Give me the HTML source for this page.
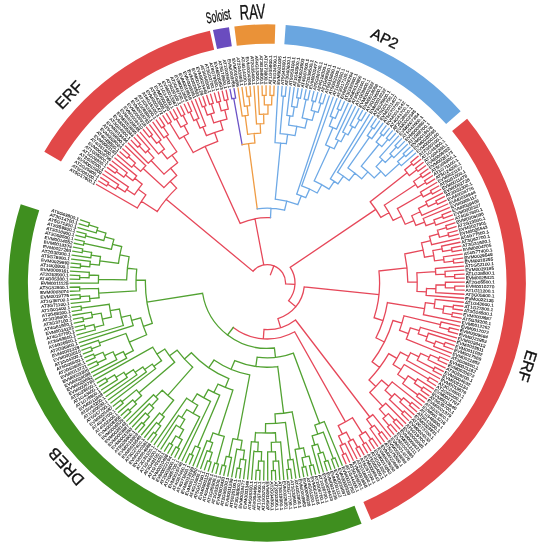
<!DOCTYPE html><html><head><meta charset="utf-8"><style>html,body{margin:0;padding:0;background:#fff;}svg{display:block}</style></head><body><svg width="542" height="550" viewBox="0 0 542 550">
<rect width="542" height="550" fill="#fff"/>
<path d="M361.59 523.86A258.7 258.7 0 0 1 20.75 204.35L39.23 210.24A239.3 239.3 0 0 0 354.52 505.80Z" fill="#3f8f1f"/>
<path d="M44.30 151.70A258.7 258.7 0 0 1 209.89 30.73L214.18 49.65A239.3 239.3 0 0 0 61.01 161.55Z" fill="#e14848"/>
<path d="M212.97 30.05A258.7 258.7 0 0 1 228.96 27.14L231.83 46.33A239.3 239.3 0 0 0 217.04 49.02Z" fill="#6a4cbf"/>
<path d="M234.33 26.40A258.7 258.7 0 0 1 275.33 24.43L274.72 43.82A239.3 239.3 0 0 0 236.79 45.64Z" fill="#ea9238"/>
<path d="M285.70 24.96A258.7 258.7 0 0 1 460.66 111.24L446.15 124.12A239.3 239.3 0 0 0 284.31 44.31Z" fill="#6aa6e0"/>
<path d="M467.11 118.80A258.7 258.7 0 0 1 371.18 519.88L363.39 502.12A239.3 239.3 0 0 0 452.12 131.11Z" fill="#e14848"/>
<g fill="none" stroke-width="1.3" stroke-linecap="square">
<path stroke="#e6485a" d="M137.30 208.00L96.59 184.50M106.68 185.90L98.64 181.04M108.70 182.64L100.76 177.62M115.68 189.22L107.68 184.27M106.68 185.90A187.60 187.60 0 0 1 108.70 182.64M118.62 184.62L102.94 174.24M125.05 191.97L117.13 186.91M115.68 189.22A178.20 178.20 0 0 1 118.62 184.62M128.39 186.95L105.20 170.91M134.52 194.66L126.69 189.45M125.05 191.97A168.80 168.80 0 0 1 128.39 186.95M115.14 173.13L107.52 167.62M117.42 170.05L109.91 164.39M123.83 177.17L116.27 171.58M115.14 173.13A187.60 187.60 0 0 1 117.42 170.05M127.14 172.82L112.36 161.20M132.95 180.68L125.47 174.98M123.83 177.17A178.20 178.20 0 0 1 127.14 172.82M136.69 175.95L114.88 158.06M142.17 184.13L134.80 178.30M132.95 180.68A168.80 168.80 0 0 1 136.69 175.95M145.84 194.84L138.24 189.32M134.52 194.66A159.40 159.40 0 0 1 142.17 184.13M157.16 211.55L141.40 201.31M137.30 208.00A150.00 150.00 0 0 1 145.84 194.84M131.76 167.20L117.47 154.98M127.13 158.20L120.11 151.95M129.71 155.37L122.82 148.97M135.37 163.10L128.41 156.78M127.13 158.20A187.60 187.60 0 0 1 129.71 155.37M140.60 171.35L133.55 165.14M131.76 167.20A178.20 178.20 0 0 1 135.37 163.10M145.86 165.66L125.59 146.05M163.91 187.61L143.19 168.48M140.60 171.35A168.80 168.80 0 0 1 145.86 165.66M148.28 163.20L128.41 143.19M137.78 147.19L131.30 140.39M140.58 144.58L134.24 137.64M145.59 152.75L139.17 145.88M137.78 147.19A187.60 187.60 0 0 1 140.58 144.58M149.63 149.08L137.23 134.96M153.91 157.87L147.60 150.90M145.59 152.75A178.20 178.20 0 0 1 149.63 149.08M164.00 174.15L151.06 160.50M148.28 163.20A168.80 168.80 0 0 1 153.91 157.87M158.45 153.90L140.28 132.33M149.29 137.08L143.38 129.77M152.30 134.71L146.54 127.28M156.62 143.26L150.79 135.89M149.29 137.08A187.60 187.60 0 0 1 152.30 134.71M160.95 139.94L149.74 124.84M164.49 149.04L158.77 141.58M156.62 143.26A178.20 178.20 0 0 1 160.95 139.94M167.33 158.76L161.44 151.44M158.45 153.90A168.80 168.80 0 0 1 164.49 149.04M163.90 137.80L153.00 122.48M161.59 127.95L156.30 120.18M164.78 125.83L159.65 117.95M168.39 134.70L163.18 126.88M161.59 127.95A187.60 187.60 0 0 1 164.78 125.83M176.79 151.72L166.13 136.23M163.90 137.80A178.20 178.20 0 0 1 168.39 134.70M177.61 162.69L172.00 155.15M167.33 158.76A159.40 159.40 0 0 1 176.79 151.72M176.69 175.41L170.63 168.22M164.00 174.15A150.00 150.00 0 0 1 177.61 162.69M176.60 188.11L170.11 181.31M163.91 187.61A140.60 140.60 0 0 1 176.69 175.41M253.04 271.26L166.20 199.26M157.16 211.55A131.20 131.20 0 0 1 176.60 188.11M168.01 123.77L163.04 115.79M171.28 121.78L166.48 113.70M179.42 138.82L169.64 122.76M168.01 123.77A187.60 187.60 0 0 1 171.28 121.78M174.59 119.85L169.95 111.68M177.94 117.99L173.47 109.73M180.82 127.14L176.26 118.91M174.59 119.85A187.60 187.60 0 0 1 177.94 117.99M181.33 116.21L177.03 107.85M184.76 114.49L180.62 106.04M187.26 123.74L183.04 115.34M181.33 116.21A187.60 187.60 0 0 1 184.76 114.49M188.41 133.72L184.02 125.40M180.82 127.14A178.20 178.20 0 0 1 187.26 123.74M193.15 152.55L183.87 136.20M179.42 138.82A168.80 168.80 0 0 1 188.41 133.72M188.21 112.84L184.26 104.31M191.70 111.26L187.92 102.66M193.83 120.61L189.96 112.04M188.21 112.84A187.60 187.60 0 0 1 191.70 111.26M198.83 118.44L191.62 101.07M200.06 128.13L196.32 119.50M193.83 120.61A178.20 178.20 0 0 1 198.83 118.44M205.64 125.83L195.35 99.57M206.42 135.64L202.84 126.95M200.06 128.13A168.80 168.80 0 0 1 205.64 125.83M202.36 106.96L199.11 98.14M205.97 105.67L202.90 96.79M207.32 115.16L204.16 106.31M202.36 106.96A187.60 187.60 0 0 1 205.97 105.67M209.60 104.46L206.72 95.51M213.26 103.32L210.56 94.32M214.22 112.86L211.43 103.88M209.60 104.46A187.60 187.60 0 0 1 213.26 103.32M213.74 122.89L210.76 113.97M207.32 115.16A178.20 178.20 0 0 1 214.22 112.86M216.94 102.26L214.42 93.20M220.64 101.27L218.31 92.16M221.21 110.84L218.79 101.75M216.94 102.26A187.60 187.60 0 0 1 220.64 101.27M224.36 100.36L222.21 91.20M228.10 99.52L226.14 90.33M228.28 109.10L226.23 99.93M224.36 100.36A187.60 187.60 0 0 1 228.10 99.52M226.98 119.06L224.74 109.93M221.21 110.84A178.20 178.20 0 0 1 228.28 109.10M222.93 129.87L220.32 120.84M213.74 122.89A168.80 168.80 0 0 1 226.98 119.06M217.70 141.40L214.60 132.53M206.42 135.64A159.40 159.40 0 0 1 222.93 129.87M240.16 223.45L205.18 146.42M193.15 152.55A150.00 150.00 0 0 1 217.70 141.40M263.76 264.92L254.98 218.75M240.16 223.45A65.40 65.40 0 0 1 270.50 217.68M410.87 162.36L418.07 156.32M413.30 165.32L420.62 159.43M404.83 169.81L412.09 163.84M410.87 162.36A187.60 187.60 0 0 1 413.30 165.32M415.67 168.33L423.11 162.58M417.98 171.38L425.54 165.79M409.34 175.52L416.84 169.85M415.67 168.33A187.60 187.60 0 0 1 417.98 171.38M370.21 201.75L407.11 172.64M404.83 169.81A178.20 178.20 0 0 1 409.34 175.52M420.23 174.49L427.90 169.05M422.42 177.63L430.19 172.35M413.61 181.41L421.33 176.06M420.23 174.49A187.60 187.60 0 0 1 422.42 177.63M424.53 180.83L432.42 175.71M426.59 184.06L434.57 179.10M417.63 187.48L425.57 182.44M424.53 180.83A187.60 187.60 0 0 1 426.59 184.06M384.33 205.22L415.65 184.42M413.61 181.41A178.20 178.20 0 0 1 417.63 187.48M420.49 192.13L436.66 182.54M430.49 190.65L438.68 186.02M432.35 194.00L440.62 189.54M423.20 196.87L431.43 192.32M430.49 190.65A187.60 187.60 0 0 1 432.35 194.00M397.39 208.49L421.86 194.49M420.49 192.13A178.20 178.20 0 0 1 423.20 196.87M425.77 201.68L442.49 193.10M435.84 200.82L444.29 196.70M437.49 204.28L446.02 200.34M428.18 206.58L436.67 202.55M435.84 200.82A187.60 187.60 0 0 1 437.49 204.28M418.56 208.28L426.99 204.12M425.77 201.68A178.20 178.20 0 0 1 428.18 206.58M421.83 215.31L447.67 204.01M411.72 215.74L420.24 211.78M418.56 208.28A168.80 168.80 0 0 1 421.83 215.31M423.18 218.48L449.24 207.71M441.99 214.85L450.74 211.44M443.34 218.44L452.17 215.20M433.88 219.97L442.67 216.64M441.99 214.85A187.60 187.60 0 0 1 443.34 218.44M435.73 225.10L453.51 218.99M425.98 225.72L434.83 222.53M433.88 219.97A178.20 178.20 0 0 1 435.73 225.10M415.86 225.48L424.63 222.08M423.18 218.48A168.80 168.80 0 0 1 425.98 225.72M405.22 224.26L413.87 220.58M411.72 215.74A159.40 159.40 0 0 1 415.86 225.48M393.12 220.44L401.53 216.26M397.39 208.49A150.00 150.00 0 0 1 405.22 224.26M380.82 217.40L388.96 212.70M384.33 205.22A140.60 140.60 0 0 1 393.12 220.44M290.21 267.40L375.80 209.38M370.21 201.75A131.20 131.20 0 0 1 380.82 217.40M445.83 225.68L454.78 222.81M446.96 229.34L455.97 226.65M437.43 230.29L446.41 227.51M445.83 225.68A187.60 187.60 0 0 1 446.96 229.34M448.02 233.02L457.08 230.52M449.00 236.73L458.11 234.41M439.44 237.28L448.52 234.87M448.02 233.02A187.60 187.60 0 0 1 449.00 236.73M429.43 236.37L438.47 233.78M437.43 230.29A178.20 178.20 0 0 1 439.44 237.28M431.60 244.71L459.07 238.32M421.47 242.89L430.57 240.53M429.43 236.37A168.80 168.80 0 0 1 431.60 244.71M441.54 246.13L459.94 242.24M451.50 247.94L460.73 246.19M452.17 251.71L461.44 250.15M442.59 251.49L451.84 249.83M451.50 247.94A187.60 187.60 0 0 1 452.17 251.71M432.86 250.61L442.09 248.81M441.54 246.13A178.20 178.20 0 0 1 442.59 251.49M443.47 256.88L462.07 254.12M453.30 259.29L462.62 258.10M453.74 263.10L463.09 262.10M444.19 262.29L453.53 261.19M453.30 259.29A187.60 187.60 0 0 1 453.74 263.10M434.54 260.81L443.85 259.58M443.47 256.88A178.20 178.20 0 0 1 444.19 262.29M424.50 257.22L433.78 255.70M432.86 250.61A168.80 168.80 0 0 1 434.54 260.81M404.76 253.91L423.15 250.02M421.47 242.89A159.40 159.40 0 0 1 424.50 257.22M435.38 268.52L463.47 266.10M445.02 271.35L463.78 270.12M454.61 274.56L464.00 274.13M454.74 278.38L464.14 278.15M445.29 276.80L454.69 276.47M454.61 274.56A187.60 187.60 0 0 1 454.74 278.38M435.79 274.54L445.18 274.07M445.02 271.35A178.20 178.20 0 0 1 445.29 276.80M416.85 272.81L435.61 271.53M435.38 268.52A168.80 168.80 0 0 1 435.79 274.54M445.40 282.25L464.20 282.17M454.78 286.04L464.17 286.20M454.67 289.87L464.07 290.22M445.34 287.71L454.73 287.96M454.78 286.04A187.60 187.60 0 0 1 454.67 289.87M435.99 284.88L445.39 284.98M445.40 282.25A178.20 178.20 0 0 1 445.34 287.71M435.73 292.63L463.88 294.24M426.51 288.43L435.90 288.75M435.99 284.88A168.80 168.80 0 0 1 435.73 292.63M426.12 295.34L463.61 298.25M416.97 291.37L426.35 291.89M426.51 288.43A159.40 159.40 0 0 1 426.12 295.34M407.80 282.14L417.20 282.08M416.85 272.81A150.00 150.00 0 0 1 416.97 291.37M378.95 270.97L406.99 267.95M404.76 253.91A140.60 140.60 0 0 1 407.80 282.14M435.19 299.50L463.26 302.26M453.49 305.15L462.82 306.26M453.00 308.95L462.31 310.25M443.93 305.84L453.25 307.05M453.49 305.15A187.60 187.60 0 0 1 453.00 308.95M452.43 312.74L461.71 314.23M451.78 316.51L461.03 318.19M442.85 313.04L452.12 314.62M452.43 312.74A187.60 187.60 0 0 1 451.78 316.51M434.13 308.05L443.43 309.45M443.93 305.84A178.20 178.20 0 0 1 442.85 313.04M425.39 302.63L434.72 303.78M435.19 299.50A168.80 168.80 0 0 1 434.13 308.05M423.42 314.67L460.27 322.14M387.41 302.61L424.52 308.67M425.39 302.63A159.40 159.40 0 0 1 423.42 314.67M441.09 321.96L459.43 326.07M449.38 327.75L458.51 329.99M448.43 331.46L457.51 333.89M439.81 327.27L448.92 329.61M449.38 327.75A187.60 187.60 0 0 1 448.43 331.46M403.91 315.84L440.47 324.62M441.09 321.96A178.20 178.20 0 0 1 439.81 327.27M420.32 327.31L456.44 337.76M428.35 333.23L455.28 341.62M445.13 342.46L454.04 345.44M443.87 346.08L452.73 349.25M435.63 341.21L444.51 344.28M445.13 342.46A187.60 187.60 0 0 1 443.87 346.08M433.76 346.34L451.34 353.02M425.88 340.57L434.71 343.78M435.63 341.21A178.20 178.20 0 0 1 433.76 346.34M418.25 333.91L427.16 336.91M428.35 333.23A168.80 168.80 0 0 1 425.88 340.57M410.35 327.81L419.32 330.62M420.32 327.31A159.40 159.40 0 0 1 418.25 333.91M406.29 339.17L449.87 356.77M399.58 330.36L408.43 333.53M410.35 327.81A150.00 150.00 0 0 1 406.29 339.17M392.93 320.48L401.94 323.16M403.91 315.84A140.60 140.60 0 0 1 399.58 330.36M439.68 356.78L448.32 360.48M438.14 360.29L446.70 364.16M430.31 354.76L438.92 358.54M439.68 356.78A187.60 187.60 0 0 1 438.14 360.29M428.04 359.72L445.01 367.81M420.65 353.33L429.20 357.24M430.31 354.76A178.20 178.20 0 0 1 428.04 359.72M434.84 367.20L443.24 371.42M433.09 370.61L441.40 375.00M417.26 360.30L433.97 368.91M434.84 367.20A187.60 187.60 0 0 1 433.09 370.61M410.54 352.72L419.00 356.83M420.65 353.33A168.80 168.80 0 0 1 417.26 360.30M406.60 360.30L439.48 378.54M400.28 352.20L408.62 356.54M410.54 352.72A159.40 159.40 0 0 1 406.60 360.30M429.37 377.31L437.50 382.04M427.41 380.60L435.44 385.49M404.17 364.54L428.40 378.96M429.37 377.31A187.60 187.60 0 0 1 427.41 380.60M417.46 378.80L433.31 388.91M423.29 387.06L431.11 392.28M421.14 390.23L428.85 395.60M414.45 383.36L422.22 388.65M423.29 387.06A187.60 187.60 0 0 1 421.14 390.23M408.13 375.91L415.97 381.09M417.46 378.80A178.20 178.20 0 0 1 414.45 383.36M418.91 393.35L426.52 398.88M416.63 396.42L424.12 402.11M402.69 383.68L417.78 394.89M418.91 393.35A187.60 187.60 0 0 1 416.63 396.42M397.76 374.44L405.46 379.83M408.13 375.91A168.80 168.80 0 0 1 402.69 383.68M393.16 364.44L401.06 369.55M404.17 364.54A159.40 159.40 0 0 1 397.76 374.44M388.74 353.68L396.87 358.41M400.28 352.20A150.00 150.00 0 0 1 393.16 364.44M392.17 381.95L421.65 405.29M411.87 402.43L419.12 408.41M409.40 405.36L416.53 411.49M403.46 397.84L410.65 403.90M411.87 402.43A187.60 187.60 0 0 1 409.40 405.36M399.88 401.96L413.88 414.51M394.59 393.75L401.68 399.92M403.46 397.84A178.20 178.20 0 0 1 399.88 401.96M404.29 411.06L411.16 417.48M401.65 413.84L408.38 420.39M389.37 399.48L402.98 412.46M404.29 411.06A187.60 187.60 0 0 1 401.65 413.84M385.06 390.32L392.01 396.65M394.59 393.75A168.80 168.80 0 0 1 389.37 399.48M381.53 380.11L388.69 386.19M392.17 381.95A159.40 159.40 0 0 1 385.06 390.32M385.74 403.17L405.55 423.24M396.19 419.22L402.66 426.04M393.38 421.82L399.71 428.78M388.40 413.63L394.80 420.53M396.19 419.22A187.60 187.60 0 0 1 393.38 421.82M390.52 424.37L396.70 431.45M387.61 426.86L393.64 434.07M382.97 418.47L389.07 425.62M390.52 424.37A187.60 187.60 0 0 1 387.61 426.86M379.46 409.06L385.71 416.08M388.40 413.63A178.20 178.20 0 0 1 382.97 418.47M369.78 392.44L382.64 406.16M385.74 403.17A168.80 168.80 0 0 1 379.46 409.06M369.02 379.96L375.83 386.44M381.53 380.11A150.00 150.00 0 0 1 369.78 392.44M372.13 361.76L379.65 367.40M388.74 353.68A140.60 140.60 0 0 1 369.02 379.96M375.97 337.81L384.37 342.04M392.93 320.48A131.20 131.20 0 0 1 372.13 361.76M374.10 317.74L383.04 320.65M387.41 302.61A121.80 121.80 0 0 1 375.97 337.81M304.20 286.84L379.00 294.61M378.95 270.97A112.40 112.40 0 0 1 374.10 317.74M372.88 414.63L390.53 436.62M381.64 431.65L387.37 439.10M378.58 433.96L384.16 441.52M374.46 425.31L380.11 432.81M381.64 431.65A187.60 187.60 0 0 1 378.58 433.96M370.05 428.53L380.90 443.88M366.72 419.34L372.26 426.93M374.46 425.31A178.20 178.20 0 0 1 370.05 428.53M295.53 320.00L369.83 417.02M372.88 414.63A168.80 168.80 0 0 1 366.72 419.34M372.32 438.38L377.59 446.17M369.13 440.49L374.23 448.39M365.54 431.61L370.73 439.45M372.32 438.38A187.60 187.60 0 0 1 369.13 440.49M365.89 442.54L370.83 450.54M362.61 444.53L367.39 452.62M359.39 435.50L364.26 443.54M365.89 442.54A187.60 187.60 0 0 1 362.61 444.53M352.43 417.70L362.49 433.58M365.54 431.61A178.20 178.20 0 0 1 359.39 435.50M359.29 446.44L363.91 454.63M355.94 448.29L360.38 456.57M353.09 439.14L357.62 447.37M359.29 446.44A187.60 187.60 0 0 1 355.94 448.29M348.27 441.69L356.82 458.43M346.28 432.13L350.69 440.43M353.09 439.14A178.20 178.20 0 0 1 348.27 441.69M345.01 443.31L353.22 460.23M345.65 453.41L349.58 461.95M342.16 454.98L345.91 463.59M340.06 445.62L343.91 454.20M345.65 453.41A187.60 187.60 0 0 1 342.16 454.98M338.57 435.97L342.55 444.49M345.01 443.31A178.20 178.20 0 0 1 340.06 445.62M338.26 425.68L342.45 434.10M346.28 432.13A168.80 168.80 0 0 1 338.57 435.97M294.69 331.79L345.45 421.87M352.43 417.70A159.40 159.40 0 0 1 338.26 425.68M263.98 329.49L263.33 338.87M294.69 331.79A56.00 56.00 0 0 1 233.25 327.53M277.92 318.62L280.62 327.62M295.53 320.00A46.60 46.60 0 0 1 263.98 329.49M288.62 300.72L295.87 306.71M304.20 286.84A37.20 37.20 0 0 1 277.92 318.62M285.58 283.88L294.97 284.32M290.21 267.40A27.80 27.80 0 0 1 288.62 300.72M253.04 271.26A18.40 18.40 0 0 1 285.58 283.88"/>
<path stroke="#6b52c6" d="M231.85 98.76L230.08 89.53M235.62 98.08L234.04 88.81M242.12 144.65L233.74 98.41M231.85 98.76A187.60 187.60 0 0 1 235.62 98.08"/>
<path stroke="#ef9c44" d="M242.19 116.06L238.01 88.17M244.40 106.26L242.00 87.62M247.00 96.49L245.99 87.14M250.82 96.12L250.00 86.75M249.83 105.65L248.91 96.29M247.00 96.49A187.60 187.60 0 0 1 250.82 96.12M248.17 115.28L247.11 105.94M244.40 106.26A178.20 178.20 0 0 1 249.83 105.65M247.63 134.28L245.18 115.64M242.19 116.06A168.80 168.80 0 0 1 248.17 115.28M256.52 123.96L254.01 86.44M259.34 114.38L258.02 86.21M262.29 95.46L262.04 86.07M266.12 95.40L266.07 86.00M264.35 104.82L264.20 95.42M262.29 95.46A187.60 187.60 0 0 1 266.12 95.40M269.95 95.42L270.09 86.02M273.78 95.52L274.11 86.12M271.63 104.86L271.87 95.46M269.95 95.42A187.60 187.60 0 0 1 273.78 95.52M267.95 114.20L267.99 104.80M264.35 104.82A178.20 178.20 0 0 1 271.63 104.86M263.84 123.64L263.64 114.24M259.34 114.38A168.80 168.80 0 0 1 267.95 114.20M260.59 133.15L260.18 123.75M256.52 123.96A159.40 159.40 0 0 1 263.84 123.64M254.92 142.94L254.10 133.57M247.63 134.28A150.00 150.00 0 0 1 260.59 133.15M257.25 208.86L248.50 143.65M242.12 144.65A140.60 140.60 0 0 1 254.92 142.94"/>
<path stroke="#6ea9e6" d="M275.00 142.62L278.13 86.30M281.43 95.94L282.14 86.57M285.25 96.27L286.15 86.91M280.10 133.56L283.34 96.10M281.43 95.94A187.60 187.60 0 0 1 285.25 96.27M286.86 115.35L290.15 87.34M291.57 106.47L294.14 87.85M296.64 97.73L298.12 88.44M300.42 98.36L302.09 89.11M296.96 107.30L298.53 98.04M296.64 97.73A187.60 187.60 0 0 1 300.42 98.36M292.84 116.16L294.27 106.87M291.57 106.47A178.20 178.20 0 0 1 296.96 107.30M288.60 125.04L289.86 115.73M286.86 115.35A168.80 168.80 0 0 1 292.84 116.16M304.18 99.08L306.04 89.87M307.93 99.88L309.97 90.70M302.17 117.86L306.06 99.47M304.18 99.08A187.60 187.60 0 0 1 307.93 99.88M311.66 100.75L313.89 91.61M315.37 101.69L317.79 92.61M311.20 110.32L313.52 101.21M311.66 100.75A187.60 187.60 0 0 1 315.37 101.69M319.07 102.71L321.67 93.68M322.74 103.81L325.52 94.83M318.21 112.26L320.90 103.25M319.07 102.71A187.60 187.60 0 0 1 322.74 103.81M312.21 120.31L314.72 111.25M311.20 110.32A178.20 178.20 0 0 1 318.21 112.26M304.98 128.14L307.21 119.01M302.17 117.86A168.80 168.80 0 0 1 312.21 120.31M295.08 135.61L296.83 126.38M288.60 125.04A159.40 159.40 0 0 1 304.98 128.14M286.34 143.71L287.62 134.40M280.10 133.56A150.00 150.00 0 0 1 295.08 135.61M275.27 199.19L280.68 143.05M275.00 142.62A140.60 140.60 0 0 1 286.34 143.71M296.73 194.18L329.35 96.06M301.68 185.94L333.15 97.37M330.28 116.34L336.93 98.75M337.17 108.94L340.68 100.22M340.71 110.40L344.40 101.75M335.35 118.35L338.95 109.66M337.17 108.94A187.60 187.60 0 0 1 340.71 110.40M329.36 126.06L332.82 117.32M330.28 116.34A178.20 178.20 0 0 1 335.35 118.35M336.50 129.08L348.08 103.37M325.63 144.85L332.95 127.53M329.36 126.06A168.80 168.80 0 0 1 336.50 129.08M335.60 139.02L351.73 105.06M342.73 132.04L355.35 106.82M350.17 125.30L358.93 108.66M357.92 118.79L362.47 110.57M361.26 120.68L365.97 112.55M354.96 127.91L359.59 119.73M357.92 118.79A187.60 187.60 0 0 1 361.26 120.68M348.07 134.84L352.58 126.58M350.17 125.30A178.20 178.20 0 0 1 354.96 127.91M341.06 141.74L345.41 133.41M342.73 132.04A168.80 168.80 0 0 1 348.07 134.84M334.15 148.77L338.34 140.36M335.60 139.02A159.40 159.40 0 0 1 341.06 141.74M314.20 180.90L329.92 146.74M325.63 144.85A150.00 150.00 0 0 1 334.15 148.77M330.40 178.88L369.43 114.60M337.56 172.26L372.84 116.72M371.02 126.74L376.22 118.91M374.19 128.90L379.55 121.17M367.32 135.59L372.61 127.81M371.02 126.74A187.60 187.60 0 0 1 374.19 128.90M371.79 138.72L382.83 123.50M347.97 167.92L369.57 137.14M367.32 135.59A178.20 178.20 0 0 1 371.79 138.72M380.39 133.39L386.06 125.90M383.42 135.74L389.24 128.36M376.16 141.99L381.91 134.56M380.39 133.39A187.60 187.60 0 0 1 383.42 135.74M386.40 138.14L392.37 130.88M389.33 140.60L395.45 133.47M381.83 146.56L387.87 139.36M386.40 138.14A187.60 187.60 0 0 1 389.33 140.60M361.32 166.21L379.02 144.25M376.16 141.99A178.20 178.20 0 0 1 381.83 146.56M379.69 157.14L398.48 136.12M395.05 145.71L401.45 138.83M397.82 148.35L404.37 141.60M389.97 153.83L396.44 147.02M395.05 145.71A187.60 187.60 0 0 1 397.82 148.35M393.86 157.66L407.23 144.43M385.35 162.44L391.93 155.73M389.97 153.83A178.20 178.20 0 0 1 393.86 157.66M376.13 166.62L382.55 159.76M379.69 157.14A168.80 168.80 0 0 1 385.35 162.44M403.21 153.79L410.03 147.32M405.82 156.60L412.77 150.26M397.64 161.59L404.52 155.19M403.21 153.79A187.60 187.60 0 0 1 405.82 156.60M401.30 165.64L415.45 153.26M385.53 176.20L399.49 163.60M397.64 161.59A178.20 178.20 0 0 1 401.30 165.64M374.22 177.90L380.93 171.31M376.13 166.62A159.40 159.40 0 0 1 385.53 176.20M361.63 178.83L367.94 171.87M361.32 166.21A150.00 150.00 0 0 1 374.22 177.90M349.10 180.50L354.97 173.16M347.97 167.92A140.60 140.60 0 0 1 361.63 178.83M337.98 183.88L343.44 176.23M337.56 172.26A131.20 131.20 0 0 1 349.10 180.50M329.06 189.16L334.24 181.31M330.40 178.88A121.80 121.80 0 0 1 337.98 183.88M317.22 192.96L321.79 184.74M314.20 180.90A112.40 112.40 0 0 1 329.06 189.16M305.73 197.70L309.60 189.13M301.68 185.94A103.00 103.00 0 0 1 317.22 192.96M297.85 204.58L301.27 195.82M296.73 194.18A93.60 93.60 0 0 1 305.73 197.70M284.57 210.24L286.75 201.10M275.27 199.19A84.20 84.20 0 0 1 297.85 204.58M270.50 217.68L270.97 208.30M257.25 208.86A74.80 74.80 0 0 1 284.57 210.24"/>
<path stroke="#52a232" d="M324.31 421.70L342.21 465.16M335.07 457.89L338.47 466.66M331.49 459.24L334.71 468.07M323.35 432.18L333.28 458.58M335.07 457.89A187.60 187.60 0 0 1 331.49 459.24M327.87 460.52L330.91 469.41M324.24 461.72L327.09 470.67M323.11 452.20L326.06 461.13M327.87 460.52A187.60 187.60 0 0 1 324.24 461.72M317.90 453.84L323.25 471.86M317.70 444.07L320.51 453.04M323.11 452.20A178.20 178.20 0 0 1 317.90 453.84M311.91 445.77L319.38 472.96M312.16 435.93L314.81 444.95M317.70 444.07A168.80 168.80 0 0 1 311.91 445.77M314.81 425.24L317.79 434.16M323.35 432.18A159.40 159.40 0 0 1 312.16 435.93M293.32 353.09L319.59 423.55M324.31 421.70A150.00 150.00 0 0 1 314.81 425.24M313.19 464.88L315.49 473.99M309.46 465.78L311.58 474.94M309.12 456.20L311.33 465.34M313.19 464.88A187.60 187.60 0 0 1 309.46 465.78M305.72 466.60L307.65 475.80M301.97 467.35L303.71 476.59M302.01 457.77L303.85 466.99M305.72 466.60A187.60 187.60 0 0 1 301.97 467.35M303.55 447.84L305.57 457.02M309.12 456.20A178.20 178.20 0 0 1 302.01 457.77M295.09 449.48L299.75 477.29M292.17 411.80L299.33 448.71M303.55 447.84A168.80 168.80 0 0 1 295.09 449.48M293.05 459.32L295.77 477.92M290.62 469.13L291.79 478.46M286.81 469.57L287.79 478.92M287.64 460.02L288.71 469.36M290.62 469.13A187.60 187.60 0 0 1 286.81 469.57M285.46 422.41L290.34 459.69M293.05 459.32A178.20 178.20 0 0 1 287.64 460.02M280.62 441.83L283.79 479.30M278.58 460.84L279.78 479.60M275.35 470.42L275.76 479.81M271.52 470.55L271.74 479.95M273.12 461.10L273.44 470.50M275.35 470.42A187.60 187.60 0 0 1 271.52 470.55M275.39 451.60L275.85 460.99M278.58 460.84A178.20 178.20 0 0 1 273.12 461.10M267.64 451.80L267.72 480.00M271.28 442.35L271.52 451.74M275.39 451.60A168.80 168.80 0 0 1 267.64 451.80M275.44 432.77L275.95 442.16M280.62 441.83A159.40 159.40 0 0 1 271.28 442.35M264.03 461.17L263.69 479.97M260.03 470.46L259.67 479.86M256.20 470.28L255.65 479.66M258.57 460.99L258.12 470.38M260.03 470.46A187.60 187.60 0 0 1 256.20 470.28M261.61 451.71L261.30 461.10M264.03 461.17A178.20 178.20 0 0 1 258.57 460.99M253.87 451.27L251.64 479.38M258.26 442.15L257.74 451.53M261.61 451.71A168.80 168.80 0 0 1 253.87 451.27M251.37 441.61L247.63 479.03M255.54 432.55L254.81 441.92M258.26 442.15A159.40 159.40 0 0 1 251.37 441.61M265.59 423.59L265.49 432.99M275.44 432.77A150.00 150.00 0 0 1 255.54 432.55M274.99 413.97L275.55 423.35M285.46 422.41A140.60 140.60 0 0 1 265.59 423.59M277.74 366.54L283.62 413.17M292.17 411.80A131.20 131.20 0 0 1 274.99 413.97M245.88 459.92L243.64 478.59M240.96 468.76L239.65 478.06M237.17 468.18L235.67 477.46M240.48 459.18L239.07 468.48M240.96 468.76A187.60 187.60 0 0 1 237.17 468.18M244.44 450.26L243.18 459.57M245.88 459.92A178.20 178.20 0 0 1 240.48 459.18M236.79 449.04L231.71 476.78M242.09 440.41L240.61 449.69M244.44 450.26A168.80 168.80 0 0 1 236.79 449.04M231.52 457.59L227.76 476.01M225.89 466.00L223.82 475.17M222.17 465.11L219.91 474.24M226.19 456.42L224.03 465.56M225.89 466.00A187.60 187.60 0 0 1 222.17 465.11M232.90 438.67L228.85 457.02M231.52 457.59A178.20 178.20 0 0 1 226.19 456.42M249.75 374.96L237.48 439.60M242.09 440.41A159.40 159.40 0 0 1 232.90 438.67M218.46 464.16L216.01 473.23M214.77 463.12L212.14 472.15M224.21 436.49L216.61 463.65M218.46 464.16A187.60 187.60 0 0 1 214.77 463.12M211.10 462.02L208.29 470.99M207.46 460.83L204.46 469.74M212.18 452.49L209.28 461.43M211.10 462.02A187.60 187.60 0 0 1 207.46 460.83M207.01 450.73L200.66 468.42M212.63 442.73L209.59 451.63M212.18 452.49A178.20 178.20 0 0 1 207.01 450.73M206.96 440.68L196.89 467.03M212.98 432.89L209.78 441.73M212.63 442.73A168.80 168.80 0 0 1 206.96 440.68M232.90 390.04L218.56 434.80M224.21 436.49A159.40 159.40 0 0 1 212.98 432.89M200.21 448.13L193.15 465.55M193.15 455.37L189.44 464.00M189.64 453.82L185.76 462.38M195.19 446.00L191.39 454.60M193.15 455.37A187.60 187.60 0 0 1 189.64 453.82M219.69 395.15L197.69 447.09M200.21 448.13A178.20 178.20 0 0 1 195.19 446.00M210.53 401.33L182.11 460.68M199.66 416.94L178.50 458.90M179.33 448.75L174.93 457.05M175.96 446.92L171.39 455.13M182.13 439.58L177.64 447.84M179.33 448.75A187.60 187.60 0 0 1 175.96 446.92M172.64 445.02L167.90 453.14M169.35 443.06L164.44 451.08M175.81 435.98L170.99 444.05M172.64 445.02A187.60 187.60 0 0 1 169.35 443.06M183.60 429.65L178.95 437.81M182.13 439.58A178.20 178.20 0 0 1 175.81 435.98M176.23 425.19L161.03 448.94M184.75 419.42L179.89 427.47M183.60 429.65A168.80 168.80 0 0 1 176.23 425.19M178.57 415.49L157.67 446.74M186.69 409.56L181.64 417.49M184.75 419.42A159.40 159.40 0 0 1 178.57 415.49M197.73 405.24L193.08 413.41M199.66 416.94A150.00 150.00 0 0 1 186.69 409.56M186.66 398.24L154.35 444.47M197.13 393.92L192.11 401.87M197.73 405.24A140.60 140.60 0 0 1 186.66 398.24M208.27 389.60L203.72 397.82M210.53 401.33A131.20 131.20 0 0 1 197.13 393.92M218.02 384.07L213.91 392.52M219.69 395.15A121.80 121.80 0 0 1 208.27 389.60M228.86 378.60L225.36 387.32M232.90 390.04A112.40 112.40 0 0 1 218.02 384.07M156.61 434.54L151.07 442.13M153.54 432.25L147.85 439.73M160.69 425.87L155.07 433.40M156.61 434.54A187.60 187.60 0 0 1 153.54 432.25M156.37 422.54L144.67 437.26M164.25 416.77L158.52 424.22M160.69 425.87A178.20 178.20 0 0 1 156.37 422.54M159.53 413.01L141.55 434.73M173.61 400.22L161.87 414.91M164.25 416.77A168.80 168.80 0 0 1 159.53 413.01M144.62 425.01L138.48 432.13M141.74 422.48L135.46 429.47M149.39 416.70L143.17 423.75M144.62 425.01A187.60 187.60 0 0 1 141.74 422.48M145.35 413.03L132.49 426.75M153.68 407.92L147.36 414.88M149.39 416.70A178.20 178.20 0 0 1 145.35 413.03M149.29 403.79L129.59 423.97M157.91 399.03L151.46 405.88M153.68 407.92A168.80 168.80 0 0 1 149.29 403.79M153.55 394.76L126.74 421.13M162.28 390.20L155.71 396.92M157.91 399.03A159.40 159.40 0 0 1 153.55 394.76M192.73 367.19L167.82 395.35M173.61 400.22A150.00 150.00 0 0 1 162.28 390.20M130.78 411.78L123.95 418.23M128.18 408.97L121.22 415.28M136.38 404.00L129.47 410.38M130.78 411.78A187.60 187.60 0 0 1 128.18 408.97M132.73 399.93L118.54 412.27M141.54 395.70L134.54 401.98M136.38 404.00A178.20 178.20 0 0 1 132.73 399.93M123.15 403.19L115.94 409.21M120.73 400.22L113.39 406.09M136.49 389.81L121.93 401.71M123.15 403.19A187.60 187.60 0 0 1 120.73 400.22M174.68 362.22L138.98 392.79M141.54 395.70A168.80 168.80 0 0 1 136.49 389.81M155.65 368.59L110.91 402.93M146.36 371.87L108.49 399.71M136.88 374.79L106.14 396.44M127.24 377.37L103.86 393.13M117.44 379.58L101.65 389.77M107.50 381.44L99.50 386.37M105.53 378.16L97.42 382.93M114.56 374.95L106.51 379.80M107.50 381.44A187.60 187.60 0 0 1 105.53 378.16M123.96 372.31L115.98 377.28M117.44 379.58A178.20 178.20 0 0 1 114.56 374.95M133.46 369.74L125.58 374.85M127.24 377.37A168.80 168.80 0 0 1 123.96 372.31M142.94 367.02L135.15 372.28M136.88 374.79A159.40 159.40 0 0 1 133.46 369.74M152.30 364.04L144.62 369.46M146.36 371.87A150.00 150.00 0 0 1 142.94 367.02M161.53 360.76L153.96 366.33M155.65 368.59A140.60 140.60 0 0 1 152.30 364.04M152.80 347.23L95.42 379.44M164.85 349.03L156.95 354.13M161.53 360.76A131.20 131.20 0 0 1 152.80 347.23M177.08 350.17L169.54 355.79M174.68 362.22A121.80 121.80 0 0 1 164.85 349.03M191.39 352.72L184.47 359.08M192.73 367.19A112.40 112.40 0 0 1 177.08 350.17M214.01 360.02L208.67 367.76M228.86 378.60A103.00 103.00 0 0 1 191.39 352.72M234.73 360.69L231.10 369.36M249.75 374.96A93.60 93.60 0 0 1 214.01 360.02M257.11 357.12L255.85 366.43M277.74 366.54A84.20 84.20 0 0 1 234.73 360.69M274.43 348.00L275.47 357.34M293.32 353.09A74.80 74.80 0 0 1 257.11 357.12M126.64 358.18L93.49 375.91M116.76 359.55L91.62 372.34M98.30 364.65L89.84 368.74M96.67 361.18L88.12 365.10M105.98 358.92L97.48 362.92M98.30 364.65A187.60 187.60 0 0 1 96.67 361.18M95.11 357.69L86.48 361.43M93.62 354.16L84.92 357.72M103.01 352.27L94.35 355.92M95.11 357.69A187.60 187.60 0 0 1 93.62 354.16M113.05 351.78L104.46 355.61M105.98 358.92A178.20 178.20 0 0 1 103.01 352.27M123.34 351.64L114.85 355.69M116.76 359.55A168.80 168.80 0 0 1 113.05 351.78M133.34 350.69L124.95 354.93M126.64 358.18A159.40 159.40 0 0 1 123.34 351.64M92.20 350.60L83.43 353.98M90.86 347.01L82.02 350.22M100.32 345.51L91.52 348.81M92.20 350.60A187.60 187.60 0 0 1 90.86 347.01M98.49 340.37L80.69 346.42M125.94 333.46L99.39 342.95M100.32 345.51A178.20 178.20 0 0 1 98.49 340.37M146.65 334.77L129.37 342.19M133.34 350.69A150.00 150.00 0 0 1 125.94 333.46M133.19 325.54L79.43 342.60M123.33 325.45L78.25 338.75M95.29 329.93L77.15 334.88M85.25 328.70L76.14 330.99M84.36 324.98L75.20 327.08M93.93 324.65L84.79 326.84M85.25 328.70A187.60 187.60 0 0 1 84.36 324.98M103.70 324.96L94.59 327.29M95.29 329.93A178.20 178.20 0 0 1 93.93 324.65M83.54 321.24L74.34 323.15M82.80 317.48L73.56 319.20M92.38 317.54L83.16 319.36M83.54 321.24A187.60 187.60 0 0 1 82.80 317.48M91.40 312.17L72.86 315.24M101.12 313.17L91.87 314.85M92.38 317.54A178.20 178.20 0 0 1 91.40 312.17M111.49 317.08L102.30 319.09M103.70 324.96A168.80 168.80 0 0 1 101.12 313.17M81.54 309.92L72.24 311.27M81.03 306.12L71.70 307.28M109.22 304.26L81.28 308.02M81.54 309.92A187.60 187.60 0 0 1 81.03 306.12M119.48 309.06L110.22 310.69M111.49 317.08A159.40 159.40 0 0 1 109.22 304.26M130.33 315.16L121.18 317.31M123.33 325.45A150.00 150.00 0 0 1 119.48 309.06M140.72 317.88L131.66 320.38M133.19 325.54A140.60 140.60 0 0 1 130.33 315.16M152.27 323.31L143.39 326.42M146.65 334.77A131.20 131.20 0 0 1 140.72 317.88M89.95 301.35L71.25 303.28M80.24 298.50L70.87 299.28M79.96 294.68L70.58 295.27M89.47 295.91L80.09 296.59M80.24 298.50A187.60 187.60 0 0 1 79.96 294.68M99.05 297.81L89.69 298.63M89.95 301.35A178.20 178.20 0 0 1 89.47 295.91M79.76 290.86L70.37 291.25M79.64 287.03L70.25 287.23M98.48 288.35L79.69 288.94M79.76 290.86A187.60 187.60 0 0 1 79.64 287.03M136.23 290.84L98.70 293.08M99.05 297.81A168.80 168.80 0 0 1 98.48 288.35M98.40 283.18L70.20 283.21M79.64 279.37L70.24 279.18M79.75 275.54L70.36 275.16M89.08 277.73L79.68 277.45M79.64 279.37A187.60 187.60 0 0 1 79.75 275.54M89.32 272.28L70.56 271.15M98.57 275.42L89.18 275.00M89.08 277.73A178.20 178.20 0 0 1 89.32 272.28M126.63 279.92L98.44 279.30M98.40 283.18A168.80 168.80 0 0 1 98.57 275.42M80.21 267.89L70.84 267.13M80.56 264.07L71.21 263.13M89.73 266.83L80.37 265.98M80.21 267.89A187.60 187.60 0 0 1 80.56 264.07M90.31 261.41L71.65 259.13M99.35 265.11L90.00 264.12M89.73 266.83A178.20 178.20 0 0 1 90.31 261.41M90.79 257.80L72.18 255.14M82.07 252.68L72.79 251.16M82.72 248.91L73.48 247.20M91.65 252.41L82.39 250.79M82.07 252.68A187.60 187.60 0 0 1 82.72 248.91M100.48 256.57L91.20 255.10M90.79 257.80A178.20 178.20 0 0 1 91.65 252.41M118.50 263.30L99.86 260.84M99.35 265.11A168.80 168.80 0 0 1 100.48 256.57M83.46 245.15L74.25 243.25M84.27 241.41L75.10 239.32M111.41 249.25L83.85 243.28M83.46 245.15A187.60 187.60 0 0 1 84.27 241.41M85.16 237.68L76.04 235.41M86.12 233.97L77.05 231.51M103.82 240.55L85.63 235.82M85.16 237.68A187.60 187.60 0 0 1 86.12 233.97M96.18 232.93L78.14 227.64M88.27 226.62L79.31 223.79M89.46 222.98L80.56 219.97M97.79 227.71L88.86 224.79M88.27 226.62A187.60 187.60 0 0 1 89.46 222.98M105.95 233.09L96.97 230.31M96.18 232.93A178.20 178.20 0 0 1 97.79 227.71M113.88 239.38L104.84 236.81M103.82 240.55A168.80 168.80 0 0 1 105.95 233.09M121.69 246.58L112.57 244.29M111.41 249.25A159.40 159.40 0 0 1 113.88 239.38M129.09 256.66L119.86 254.90M118.50 263.30A150.00 150.00 0 0 1 121.69 246.58M136.73 269.22L127.38 268.24M126.63 279.92A140.60 140.60 0 0 1 129.09 256.66M145.43 280.23L136.03 280.02M136.23 290.84A131.20 131.20 0 0 1 136.73 269.22M202.61 293.25L146.90 302.08M152.27 323.31A121.80 121.80 0 0 1 145.43 280.23M233.25 327.53L227.55 335.01M274.43 348.00A65.40 65.40 0 0 1 202.61 293.25"/>
<path stroke="#e6485a" d="M270.45 274.61L273.85 265.84"/>
</g>
<g font-family="Liberation Sans, Arial, sans-serif" font-size="4.2" fill="#111" stroke="#111" stroke-width="0.1">
<text y="1.5" text-anchor="end" transform="rotate(30.00 267.2 283.0) translate(68.60 283.0) scale(1.125 1)">AT5G17600.1</text>
<text y="1.5" text-anchor="end" transform="rotate(31.17 267.2 283.0) translate(68.60 283.0) scale(1.125 1)">AT5G09100.1</text>
<text y="1.5" text-anchor="end" transform="rotate(32.34 267.2 283.0) translate(68.60 283.0) scale(1.125 1)">AT2G25800.1</text>
<text y="1.5" text-anchor="end" transform="rotate(33.51 267.2 283.0) translate(68.60 283.0) scale(1.125 1)">EVM0015609</text>
<text y="1.5" text-anchor="end" transform="rotate(34.68 267.2 283.0) translate(68.60 283.0) scale(1.125 1)">AT2G30300.1</text>
<text y="1.5" text-anchor="end" transform="rotate(35.85 267.2 283.0) translate(68.60 283.0) scale(1.125 1)">AT1G09300.1</text>
<text y="1.5" text-anchor="end" transform="rotate(37.02 267.2 283.0) translate(68.60 283.0) scale(1.125 1)">AT1G35800.1</text>
<text y="1.5" text-anchor="end" transform="rotate(38.19 267.2 283.0) translate(68.60 283.0) scale(1.125 1)">EVM0028796</text>
<text y="1.5" text-anchor="end" transform="rotate(39.36 267.2 283.0) translate(68.60 283.0) scale(1.125 1)">AT4G51800.1</text>
<text y="1.5" text-anchor="end" transform="rotate(40.53 267.2 283.0) translate(68.60 283.0) scale(1.125 1)">EVM0003193</text>
<text y="1.5" text-anchor="end" transform="rotate(41.70 267.2 283.0) translate(68.60 283.0) scale(1.125 1)">AT4G28500.1</text>
<text y="1.5" text-anchor="end" transform="rotate(42.87 267.2 283.0) translate(68.60 283.0) scale(1.125 1)">EVM0028024</text>
<text y="1.5" text-anchor="end" transform="rotate(44.04 267.2 283.0) translate(68.60 283.0) scale(1.125 1)">AT5G50600.1</text>
<text y="1.5" text-anchor="end" transform="rotate(45.21 267.2 283.0) translate(68.60 283.0) scale(1.125 1)">EVM0019144</text>
<text y="1.5" text-anchor="end" transform="rotate(46.38 267.2 283.0) translate(68.60 283.0) scale(1.125 1)">AT3G04500.1</text>
<text y="1.5" text-anchor="end" transform="rotate(47.55 267.2 283.0) translate(68.60 283.0) scale(1.125 1)">EVM0005344</text>
<text y="1.5" text-anchor="end" transform="rotate(48.72 267.2 283.0) translate(68.60 283.0) scale(1.125 1)">EVM0010695</text>
<text y="1.5" text-anchor="end" transform="rotate(49.89 267.2 283.0) translate(68.60 283.0) scale(1.125 1)">EVM0029645</text>
<text y="1.5" text-anchor="end" transform="rotate(51.06 267.2 283.0) translate(68.60 283.0) scale(1.125 1)">EVM0003410</text>
<text y="1.5" text-anchor="end" transform="rotate(52.23 267.2 283.0) translate(68.60 283.0) scale(1.125 1)">EVM0006918</text>
<text y="1.5" text-anchor="end" transform="rotate(53.40 267.2 283.0) translate(68.60 283.0) scale(1.125 1)">EVM0018793</text>
<text y="1.5" text-anchor="end" transform="rotate(54.57 267.2 283.0) translate(68.60 283.0) scale(1.125 1)">AT1G09800.1</text>
<text y="1.5" text-anchor="end" transform="rotate(55.74 267.2 283.0) translate(68.60 283.0) scale(1.125 1)">AT1G53300.1</text>
<text y="1.5" text-anchor="end" transform="rotate(56.91 267.2 283.0) translate(68.60 283.0) scale(1.125 1)">AT4G16100.1</text>
<text y="1.5" text-anchor="end" transform="rotate(58.08 267.2 283.0) translate(68.60 283.0) scale(1.125 1)">EVM0001472</text>
<text y="1.5" text-anchor="end" transform="rotate(59.25 267.2 283.0) translate(68.60 283.0) scale(1.125 1)">AT5G43900.1</text>
<text y="1.5" text-anchor="end" transform="rotate(60.42 267.2 283.0) translate(68.60 283.0) scale(1.125 1)">EVM0001180</text>
<text y="1.5" text-anchor="end" transform="rotate(61.59 267.2 283.0) translate(68.60 283.0) scale(1.125 1)">AT1G14900.1</text>
<text y="1.5" text-anchor="end" transform="rotate(62.76 267.2 283.0) translate(68.60 283.0) scale(1.125 1)">EVM0013367</text>
<text y="1.5" text-anchor="end" transform="rotate(63.93 267.2 283.0) translate(68.60 283.0) scale(1.125 1)">AT3G20100.1</text>
<text y="1.5" text-anchor="end" transform="rotate(65.10 267.2 283.0) translate(68.60 283.0) scale(1.125 1)">AT2G49700.1</text>
<text y="1.5" text-anchor="end" transform="rotate(66.27 267.2 283.0) translate(68.60 283.0) scale(1.125 1)">EVM0012654</text>
<text y="1.5" text-anchor="end" transform="rotate(67.44 267.2 283.0) translate(68.60 283.0) scale(1.125 1)">EVM0019518</text>
<text y="1.5" text-anchor="end" transform="rotate(68.61 267.2 283.0) translate(68.60 283.0) scale(1.125 1)">EVM0003361</text>
<text y="1.5" text-anchor="end" transform="rotate(69.78 267.2 283.0) translate(68.60 283.0) scale(1.125 1)">EVM0026591</text>
<text y="1.5" text-anchor="end" transform="rotate(70.95 267.2 283.0) translate(68.60 283.0) scale(1.125 1)">EVM0014129</text>
<text y="1.5" text-anchor="end" transform="rotate(72.12 267.2 283.0) translate(68.60 283.0) scale(1.125 1)">EVM0023449</text>
<text y="1.5" text-anchor="end" transform="rotate(73.29 267.2 283.0) translate(68.60 283.0) scale(1.125 1)">AT3G56500.1</text>
<text y="1.5" text-anchor="end" transform="rotate(74.46 267.2 283.0) translate(68.60 283.0) scale(1.125 1)">AT3G02700.1</text>
<text y="1.5" text-anchor="end" transform="rotate(75.63 267.2 283.0) translate(68.60 283.0) scale(1.125 1)">AT4G79300.1</text>
<text y="1.5" text-anchor="end" transform="rotate(76.80 267.2 283.0) translate(68.60 283.0) scale(1.125 1)">EVM0010893</text>
<text y="1.5" text-anchor="end" transform="rotate(77.97 267.2 283.0) translate(68.60 283.0) scale(1.125 1)">AT3G78500.1</text>
<text y="1.5" text-anchor="end" transform="rotate(79.14 267.2 283.0) translate(68.60 283.0) scale(1.125 1)">AT1G03600.1</text>
<text y="1.5" text-anchor="end" transform="rotate(80.31 267.2 283.0) translate(68.60 283.0) scale(1.125 1)">EVM0009785</text>
<text y="1.5" text-anchor="end" transform="rotate(81.48 267.2 283.0) translate(68.60 283.0) scale(1.125 1)">EVM0010486</text>
<text y="1.5" text-anchor="end" transform="rotate(82.65 267.2 283.0) translate(68.60 283.0) scale(1.125 1)">AT2G41600.1</text>
<text y="1.5" text-anchor="end" transform="rotate(83.82 267.2 283.0) translate(68.60 283.0) scale(1.125 1)">AT4G14100.1</text>
<text y="1.5" text-anchor="end" transform="rotate(84.99 267.2 283.0) translate(68.60 283.0) scale(1.125 1)">EVM0004306</text>
<text y="1.5" text-anchor="end" transform="rotate(86.16 267.2 283.0) translate(68.60 283.0) scale(1.125 1)">AT2G35400.1</text>
<text y="1.5" text-anchor="end" transform="rotate(87.33 267.2 283.0) translate(68.60 283.0) scale(1.125 1)">AT4G13200.1</text>
<text y="1.5" text-anchor="end" transform="rotate(88.50 267.2 283.0) translate(68.60 283.0) scale(1.125 1)">AT3G29800.1</text>
<text y="1.5" text-anchor="end" transform="rotate(89.67 267.2 283.0) translate(68.60 283.0) scale(1.125 1)">AT2G73800.1</text>
<text y="1.5" transform="rotate(-89.16 267.2 283.0) translate(465.80 283.0) scale(1.125 1)">AT1G05900.1</text>
<text y="1.5" transform="rotate(-87.99 267.2 283.0) translate(465.80 283.0) scale(1.125 1)">AT5G24500.1</text>
<text y="1.5" transform="rotate(-86.82 267.2 283.0) translate(465.80 283.0) scale(1.125 1)">EVM0021035</text>
<text y="1.5" transform="rotate(-85.65 267.2 283.0) translate(465.80 283.0) scale(1.125 1)">AT5G45300.1</text>
<text y="1.5" transform="rotate(-84.48 267.2 283.0) translate(465.80 283.0) scale(1.125 1)">AT3G60600.1</text>
<text y="1.5" transform="rotate(-83.31 267.2 283.0) translate(465.80 283.0) scale(1.125 1)">AT5G53100.1</text>
<text y="1.5" transform="rotate(-82.14 267.2 283.0) translate(465.80 283.0) scale(1.125 1)">AT1G62900.1</text>
<text y="1.5" transform="rotate(-80.97 267.2 283.0) translate(465.80 283.0) scale(1.125 1)">EVM0023503</text>
<text y="1.5" transform="rotate(-79.80 267.2 283.0) translate(465.80 283.0) scale(1.125 1)">AT4G67500.1</text>
<text y="1.5" transform="rotate(-78.63 267.2 283.0) translate(465.80 283.0) scale(1.125 1)">AT2G09500.1</text>
<text y="1.5" transform="rotate(-77.46 267.2 283.0) translate(465.80 283.0) scale(1.125 1)">EVM0001477</text>
<text y="1.5" transform="rotate(-76.29 267.2 283.0) translate(465.80 283.0) scale(1.125 1)">AT5G26700.1</text>
<text y="1.5" transform="rotate(-75.12 267.2 283.0) translate(465.80 283.0) scale(1.125 1)">AT4G16300.1</text>
<text y="1.5" transform="rotate(-73.95 267.2 283.0) translate(465.80 283.0) scale(1.125 1)">AT1G68900.1</text>
<text y="1.5" transform="rotate(-72.78 267.2 283.0) translate(465.80 283.0) scale(1.125 1)">AT5G15600.1</text>
<text y="1.5" transform="rotate(-71.61 267.2 283.0) translate(465.80 283.0) scale(1.125 1)">AT5G62100.1</text>
<text y="1.5" transform="rotate(-70.44 267.2 283.0) translate(465.80 283.0) scale(1.125 1)">AT1G69200.1</text>
<text y="1.5" transform="rotate(-69.27 267.2 283.0) translate(465.80 283.0) scale(1.125 1)">AT3G17100.1</text>
<text y="1.5" transform="rotate(-68.10 267.2 283.0) translate(465.80 283.0) scale(1.125 1)">EVM0028264</text>
<text y="1.5" transform="rotate(-66.93 267.2 283.0) translate(465.80 283.0) scale(1.125 1)">AT3G32500.1</text>
<text y="1.5" transform="rotate(-65.76 267.2 283.0) translate(465.80 283.0) scale(1.125 1)">EVM0013860</text>
<text y="1.5" transform="rotate(-64.59 267.2 283.0) translate(465.80 283.0) scale(1.125 1)">AT3G01100.1</text>
<text y="1.5" transform="rotate(-63.42 267.2 283.0) translate(465.80 283.0) scale(1.125 1)">AT1G09800.1</text>
<text y="1.5" transform="rotate(-62.25 267.2 283.0) translate(465.80 283.0) scale(1.125 1)">EVM0002822</text>
<text y="1.5" transform="rotate(-61.08 267.2 283.0) translate(465.80 283.0) scale(1.125 1)">EVM0016056</text>
<text y="1.5" transform="rotate(-59.91 267.2 283.0) translate(465.80 283.0) scale(1.125 1)">AT3G10600.1</text>
<text y="1.5" transform="rotate(-58.74 267.2 283.0) translate(465.80 283.0) scale(1.125 1)">EVM0019222</text>
<text y="1.5" transform="rotate(-57.57 267.2 283.0) translate(465.80 283.0) scale(1.125 1)">AT3G25600.1</text>
<text y="1.5" transform="rotate(-56.40 267.2 283.0) translate(465.80 283.0) scale(1.125 1)">AT5G01700.1</text>
<text y="1.5" transform="rotate(-55.23 267.2 283.0) translate(465.80 283.0) scale(1.125 1)">EVM0001407</text>
<text y="1.5" transform="rotate(-54.06 267.2 283.0) translate(465.80 283.0) scale(1.125 1)">AT5G70700.1</text>
<text y="1.5" transform="rotate(-52.89 267.2 283.0) translate(465.80 283.0) scale(1.125 1)">EVM0014142</text>
<text y="1.5" transform="rotate(-51.72 267.2 283.0) translate(465.80 283.0) scale(1.125 1)">AT4G41700.1</text>
<text y="1.5" transform="rotate(-50.55 267.2 283.0) translate(465.80 283.0) scale(1.125 1)">AT2G28900.1</text>
<text y="1.5" transform="rotate(-49.38 267.2 283.0) translate(465.80 283.0) scale(1.125 1)">EVM0002345</text>
<text y="1.5" transform="rotate(-48.21 267.2 283.0) translate(465.80 283.0) scale(1.125 1)">EVM0007354</text>
<text y="1.5" transform="rotate(-47.04 267.2 283.0) translate(465.80 283.0) scale(1.125 1)">AT1G42600.1</text>
<text y="1.5" transform="rotate(-45.87 267.2 283.0) translate(465.80 283.0) scale(1.125 1)">EVM0008591</text>
<text y="1.5" transform="rotate(-44.70 267.2 283.0) translate(465.80 283.0) scale(1.125 1)">AT1G68700.1</text>
<text y="1.5" transform="rotate(-43.53 267.2 283.0) translate(465.80 283.0) scale(1.125 1)">EVM0018476</text>
<text y="1.5" transform="rotate(-42.36 267.2 283.0) translate(465.80 283.0) scale(1.125 1)">EVM0026595</text>
<text y="1.5" transform="rotate(-41.19 267.2 283.0) translate(465.80 283.0) scale(1.125 1)">EVM0000160</text>
<text y="1.5" transform="rotate(-40.02 267.2 283.0) translate(465.80 283.0) scale(1.125 1)">AT2G50100.1</text>
<text y="1.5" transform="rotate(-38.85 267.2 283.0) translate(465.80 283.0) scale(1.125 1)">AT1G49300.1</text>
<text y="1.5" transform="rotate(-37.68 267.2 283.0) translate(465.80 283.0) scale(1.125 1)">AT1G04200.1</text>
<text y="1.5" transform="rotate(-36.51 267.2 283.0) translate(465.80 283.0) scale(1.125 1)">EVM0009322</text>
<text y="1.5" transform="rotate(-35.34 267.2 283.0) translate(465.80 283.0) scale(1.125 1)">EVM0026173</text>
<text y="1.5" transform="rotate(-34.17 267.2 283.0) translate(465.80 283.0) scale(1.125 1)">AT5G66900.1</text>
<text y="1.5" transform="rotate(-33.00 267.2 283.0) translate(465.80 283.0) scale(1.125 1)">AT1G71100.1</text>
<text y="1.5" transform="rotate(-31.83 267.2 283.0) translate(465.80 283.0) scale(1.125 1)">AT5G24200.1</text>
<text y="1.5" transform="rotate(-30.66 267.2 283.0) translate(465.80 283.0) scale(1.125 1)">EVM0021167</text>
<text y="1.5" transform="rotate(-29.49 267.2 283.0) translate(465.80 283.0) scale(1.125 1)">AT5G51500.1</text>
<text y="1.5" transform="rotate(-28.32 267.2 283.0) translate(465.80 283.0) scale(1.125 1)">EVM0011478</text>
<text y="1.5" transform="rotate(-27.15 267.2 283.0) translate(465.80 283.0) scale(1.125 1)">EVM0002728</text>
<text y="1.5" transform="rotate(-25.98 267.2 283.0) translate(465.80 283.0) scale(1.125 1)">AT2G53300.1</text>
<text y="1.5" transform="rotate(-24.81 267.2 283.0) translate(465.80 283.0) scale(1.125 1)">EVM0024776</text>
<text y="1.5" transform="rotate(-23.64 267.2 283.0) translate(465.80 283.0) scale(1.125 1)">EVM0016944</text>
<text y="1.5" transform="rotate(-22.47 267.2 283.0) translate(465.80 283.0) scale(1.125 1)">EVM0005117</text>
<text y="1.5" transform="rotate(-21.30 267.2 283.0) translate(465.80 283.0) scale(1.125 1)">EVM0029406</text>
<text y="1.5" transform="rotate(-20.13 267.2 283.0) translate(465.80 283.0) scale(1.125 1)">EVM0005327</text>
<text y="1.5" transform="rotate(-18.96 267.2 283.0) translate(465.80 283.0) scale(1.125 1)">AT4G67800.1</text>
<text y="1.5" transform="rotate(-17.79 267.2 283.0) translate(465.80 283.0) scale(1.125 1)">EVM0006098</text>
<text y="1.5" transform="rotate(-16.62 267.2 283.0) translate(465.80 283.0) scale(1.125 1)">AT2G19900.1</text>
<text y="1.5" transform="rotate(-15.45 267.2 283.0) translate(465.80 283.0) scale(1.125 1)">EVM0027901</text>
<text y="1.5" transform="rotate(-14.28 267.2 283.0) translate(465.80 283.0) scale(1.125 1)">EVM0025543</text>
<text y="1.5" transform="rotate(-13.11 267.2 283.0) translate(465.80 283.0) scale(1.125 1)">AT4G77500.1</text>
<text y="1.5" transform="rotate(-11.94 267.2 283.0) translate(465.80 283.0) scale(1.125 1)">AT3G62700.1</text>
<text y="1.5" transform="rotate(-10.77 267.2 283.0) translate(465.80 283.0) scale(1.125 1)">AT3G31600.1</text>
<text y="1.5" transform="rotate(-9.60 267.2 283.0) translate(465.80 283.0) scale(1.125 1)">EVM0004705</text>
<text y="1.5" transform="rotate(-8.43 267.2 283.0) translate(465.80 283.0) scale(1.125 1)">AT4G77400.1</text>
<text y="1.5" transform="rotate(-7.26 267.2 283.0) translate(465.80 283.0) scale(1.125 1)">EVM0029548</text>
<text y="1.5" transform="rotate(-6.09 267.2 283.0) translate(465.80 283.0) scale(1.125 1)">EVM0018255</text>
<text y="1.5" transform="rotate(-4.92 267.2 283.0) translate(465.80 283.0) scale(1.125 1)">AT1G52100.1</text>
<text y="1.5" transform="rotate(-3.75 267.2 283.0) translate(465.80 283.0) scale(1.125 1)">EVM0029195</text>
<text y="1.5" transform="rotate(-2.58 267.2 283.0) translate(465.80 283.0) scale(1.125 1)">AT1G28500.1</text>
<text y="1.5" transform="rotate(-1.41 267.2 283.0) translate(465.80 283.0) scale(1.125 1)">EVM0025421</text>
<text y="1.5" transform="rotate(-0.24 267.2 283.0) translate(465.80 283.0) scale(1.125 1)">AT2G05500.1</text>
<text y="1.5" transform="rotate(0.93 267.2 283.0) translate(465.80 283.0) scale(1.125 1)">EVM0010270</text>
<text y="1.5" transform="rotate(2.10 267.2 283.0) translate(465.80 283.0) scale(1.125 1)">AT1G11200.1</text>
<text y="1.5" transform="rotate(3.27 267.2 283.0) translate(465.80 283.0) scale(1.125 1)">AT3G05600.1</text>
<text y="1.5" transform="rotate(4.44 267.2 283.0) translate(465.80 283.0) scale(1.125 1)">EVM0022135</text>
<text y="1.5" transform="rotate(5.61 267.2 283.0) translate(465.80 283.0) scale(1.125 1)">AT1G43600.1</text>
<text y="1.5" transform="rotate(6.78 267.2 283.0) translate(465.80 283.0) scale(1.125 1)">AT1G27800.1</text>
<text y="1.5" transform="rotate(7.95 267.2 283.0) translate(465.80 283.0) scale(1.125 1)">AT3G16500.1</text>
<text y="1.5" transform="rotate(9.12 267.2 283.0) translate(465.80 283.0) scale(1.125 1)">EVM0003687</text>
<text y="1.5" transform="rotate(10.29 267.2 283.0) translate(465.80 283.0) scale(1.125 1)">AT5G33200.1</text>
<text y="1.5" transform="rotate(11.46 267.2 283.0) translate(465.80 283.0) scale(1.125 1)">EVM0012262</text>
<text y="1.5" transform="rotate(12.63 267.2 283.0) translate(465.80 283.0) scale(1.125 1)">EVM0012072</text>
<text y="1.5" transform="rotate(13.80 267.2 283.0) translate(465.80 283.0) scale(1.125 1)">EVM0009684</text>
<text y="1.5" transform="rotate(14.97 267.2 283.0) translate(465.80 283.0) scale(1.125 1)">EVM0021953</text>
<text y="1.5" transform="rotate(16.14 267.2 283.0) translate(465.80 283.0) scale(1.125 1)">EVM0026412</text>
<text y="1.5" transform="rotate(17.31 267.2 283.0) translate(465.80 283.0) scale(1.125 1)">EVM0003511</text>
<text y="1.5" transform="rotate(18.48 267.2 283.0) translate(465.80 283.0) scale(1.125 1)">EVM0011092</text>
<text y="1.5" transform="rotate(19.65 267.2 283.0) translate(465.80 283.0) scale(1.125 1)">EVM0017569</text>
<text y="1.5" transform="rotate(20.82 267.2 283.0) translate(465.80 283.0) scale(1.125 1)">EVM0021852</text>
<text y="1.5" transform="rotate(21.99 267.2 283.0) translate(465.80 283.0) scale(1.125 1)">AT3G08500.1</text>
<text y="1.5" transform="rotate(23.16 267.2 283.0) translate(465.80 283.0) scale(1.125 1)">EVM0021162</text>
<text y="1.5" transform="rotate(24.33 267.2 283.0) translate(465.80 283.0) scale(1.125 1)">EVM0020672</text>
<text y="1.5" transform="rotate(25.50 267.2 283.0) translate(465.80 283.0) scale(1.125 1)">AT3G59200.1</text>
<text y="1.5" transform="rotate(26.67 267.2 283.0) translate(465.80 283.0) scale(1.125 1)">EVM0004632</text>
<text y="1.5" transform="rotate(27.84 267.2 283.0) translate(465.80 283.0) scale(1.125 1)">EVM0021134</text>
<text y="1.5" transform="rotate(29.01 267.2 283.0) translate(465.80 283.0) scale(1.125 1)">EVM0019576</text>
<text y="1.5" transform="rotate(30.18 267.2 283.0) translate(465.80 283.0) scale(1.125 1)">AT3G24800.1</text>
<text y="1.5" transform="rotate(31.35 267.2 283.0) translate(465.80 283.0) scale(1.125 1)">AT2G09200.1</text>
<text y="1.5" transform="rotate(32.52 267.2 283.0) translate(465.80 283.0) scale(1.125 1)">EVM0017797</text>
<text y="1.5" transform="rotate(33.69 267.2 283.0) translate(465.80 283.0) scale(1.125 1)">EVM0012840</text>
<text y="1.5" transform="rotate(34.86 267.2 283.0) translate(465.80 283.0) scale(1.125 1)">AT3G35700.1</text>
<text y="1.5" transform="rotate(36.03 267.2 283.0) translate(465.80 283.0) scale(1.125 1)">EVM0001379</text>
<text y="1.5" transform="rotate(37.20 267.2 283.0) translate(465.80 283.0) scale(1.125 1)">AT3G32900.1</text>
<text y="1.5" transform="rotate(38.37 267.2 283.0) translate(465.80 283.0) scale(1.125 1)">EVM0013216</text>
<text y="1.5" transform="rotate(39.54 267.2 283.0) translate(465.80 283.0) scale(1.125 1)">AT1G46800.1</text>
<text y="1.5" transform="rotate(40.71 267.2 283.0) translate(465.80 283.0) scale(1.125 1)">AT5G13200.1</text>
<text y="1.5" transform="rotate(41.88 267.2 283.0) translate(465.80 283.0) scale(1.125 1)">EVM0023831</text>
<text y="1.5" transform="rotate(43.05 267.2 283.0) translate(465.80 283.0) scale(1.125 1)">AT2G73700.1</text>
<text y="1.5" transform="rotate(44.22 267.2 283.0) translate(465.80 283.0) scale(1.125 1)">EVM0024533</text>
<text y="1.5" transform="rotate(45.39 267.2 283.0) translate(465.80 283.0) scale(1.125 1)">AT5G19700.1</text>
<text y="1.5" transform="rotate(46.56 267.2 283.0) translate(465.80 283.0) scale(1.125 1)">EVM0005581</text>
<text y="1.5" transform="rotate(47.73 267.2 283.0) translate(465.80 283.0) scale(1.125 1)">EVM0006621</text>
<text y="1.5" transform="rotate(48.90 267.2 283.0) translate(465.80 283.0) scale(1.125 1)">EVM0012111</text>
<text y="1.5" transform="rotate(50.07 267.2 283.0) translate(465.80 283.0) scale(1.125 1)">EVM0000985</text>
<text y="1.5" transform="rotate(51.24 267.2 283.0) translate(465.80 283.0) scale(1.125 1)">EVM0014576</text>
<text y="1.5" transform="rotate(52.41 267.2 283.0) translate(465.80 283.0) scale(1.125 1)">EVM0026689</text>
<text y="1.5" transform="rotate(53.58 267.2 283.0) translate(465.80 283.0) scale(1.125 1)">AT5G75500.1</text>
<text y="1.5" transform="rotate(54.75 267.2 283.0) translate(465.80 283.0) scale(1.125 1)">EVM0022499</text>
<text y="1.5" transform="rotate(55.92 267.2 283.0) translate(465.80 283.0) scale(1.125 1)">EVM0029350</text>
<text y="1.5" transform="rotate(57.09 267.2 283.0) translate(465.80 283.0) scale(1.125 1)">EVM0015862</text>
<text y="1.5" transform="rotate(58.26 267.2 283.0) translate(465.80 283.0) scale(1.125 1)">AT2G01200.1</text>
<text y="1.5" transform="rotate(59.43 267.2 283.0) translate(465.80 283.0) scale(1.125 1)">AT5G59400.1</text>
<text y="1.5" transform="rotate(60.60 267.2 283.0) translate(465.80 283.0) scale(1.125 1)">EVM0006943</text>
<text y="1.5" transform="rotate(61.77 267.2 283.0) translate(465.80 283.0) scale(1.125 1)">AT5G57200.1</text>
<text y="1.5" transform="rotate(62.94 267.2 283.0) translate(465.80 283.0) scale(1.125 1)">AT2G18800.1</text>
<text y="1.5" transform="rotate(64.11 267.2 283.0) translate(465.80 283.0) scale(1.125 1)">EVM0001658</text>
<text y="1.5" transform="rotate(65.28 267.2 283.0) translate(465.80 283.0) scale(1.125 1)">AT5G30900.1</text>
<text y="1.5" transform="rotate(66.45 267.2 283.0) translate(465.80 283.0) scale(1.125 1)">AT1G44600.1</text>
<text y="1.5" transform="rotate(67.62 267.2 283.0) translate(465.80 283.0) scale(1.125 1)">EVM0022762</text>
<text y="1.5" transform="rotate(68.79 267.2 283.0) translate(465.80 283.0) scale(1.125 1)">EVM0002638</text>
<text y="1.5" transform="rotate(69.96 267.2 283.0) translate(465.80 283.0) scale(1.125 1)">EVM0019697</text>
<text y="1.5" transform="rotate(71.13 267.2 283.0) translate(465.80 283.0) scale(1.125 1)">EVM0001112</text>
<text y="1.5" transform="rotate(72.30 267.2 283.0) translate(465.80 283.0) scale(1.125 1)">EVM0024239</text>
<text y="1.5" transform="rotate(73.47 267.2 283.0) translate(465.80 283.0) scale(1.125 1)">EVM0026433</text>
<text y="1.5" transform="rotate(74.64 267.2 283.0) translate(465.80 283.0) scale(1.125 1)">AT1G26700.1</text>
<text y="1.5" transform="rotate(75.81 267.2 283.0) translate(465.80 283.0) scale(1.125 1)">AT1G06700.1</text>
<text y="1.5" transform="rotate(76.98 267.2 283.0) translate(465.80 283.0) scale(1.125 1)">EVM0023128</text>
<text y="1.5" transform="rotate(78.15 267.2 283.0) translate(465.80 283.0) scale(1.125 1)">AT4G61200.1</text>
<text y="1.5" transform="rotate(79.32 267.2 283.0) translate(465.80 283.0) scale(1.125 1)">EVM0006828</text>
<text y="1.5" transform="rotate(80.49 267.2 283.0) translate(465.80 283.0) scale(1.125 1)">EVM0009982</text>
<text y="1.5" transform="rotate(81.66 267.2 283.0) translate(465.80 283.0) scale(1.125 1)">AT4G52800.1</text>
<text y="1.5" transform="rotate(82.83 267.2 283.0) translate(465.80 283.0) scale(1.125 1)">AT1G33600.1</text>
<text y="1.5" transform="rotate(84.00 267.2 283.0) translate(465.80 283.0) scale(1.125 1)">AT3G77700.1</text>
<text y="1.5" transform="rotate(85.17 267.2 283.0) translate(465.80 283.0) scale(1.125 1)">EVM0026351</text>
<text y="1.5" transform="rotate(86.34 267.2 283.0) translate(465.80 283.0) scale(1.125 1)">AT3G19800.1</text>
<text y="1.5" transform="rotate(87.51 267.2 283.0) translate(465.80 283.0) scale(1.125 1)">AT2G03300.1</text>
<text y="1.5" transform="rotate(88.68 267.2 283.0) translate(465.80 283.0) scale(1.125 1)">AT2G04300.1</text>
<text y="1.5" transform="rotate(89.85 267.2 283.0) translate(465.80 283.0) scale(1.125 1)">EVM0014507</text>
<text y="1.5" text-anchor="end" transform="rotate(271.02 267.2 283.0) translate(68.60 283.0) scale(1.125 1)">AT1G03700.1</text>
<text y="1.5" text-anchor="end" transform="rotate(272.19 267.2 283.0) translate(68.60 283.0) scale(1.125 1)">AT1G07400.1</text>
<text y="1.5" text-anchor="end" transform="rotate(273.36 267.2 283.0) translate(68.60 283.0) scale(1.125 1)">AT4G04400.1</text>
<text y="1.5" text-anchor="end" transform="rotate(274.53 267.2 283.0) translate(68.60 283.0) scale(1.125 1)">AT4G25300.1</text>
<text y="1.5" text-anchor="end" transform="rotate(275.70 267.2 283.0) translate(68.60 283.0) scale(1.125 1)">EVM0011349</text>
<text y="1.5" text-anchor="end" transform="rotate(276.87 267.2 283.0) translate(68.60 283.0) scale(1.125 1)">EVM0019477</text>
<text y="1.5" text-anchor="end" transform="rotate(278.04 267.2 283.0) translate(68.60 283.0) scale(1.125 1)">AT3G36800.1</text>
<text y="1.5" text-anchor="end" transform="rotate(279.21 267.2 283.0) translate(68.60 283.0) scale(1.125 1)">AT5G35100.1</text>
<text y="1.5" text-anchor="end" transform="rotate(280.38 267.2 283.0) translate(68.60 283.0) scale(1.125 1)">EVM0011296</text>
<text y="1.5" text-anchor="end" transform="rotate(281.55 267.2 283.0) translate(68.60 283.0) scale(1.125 1)">AT1G56200.1</text>
<text y="1.5" text-anchor="end" transform="rotate(282.72 267.2 283.0) translate(68.60 283.0) scale(1.125 1)">EVM0003433</text>
<text y="1.5" text-anchor="end" transform="rotate(283.89 267.2 283.0) translate(68.60 283.0) scale(1.125 1)">AT1G03300.1</text>
<text y="1.5" text-anchor="end" transform="rotate(285.06 267.2 283.0) translate(68.60 283.0) scale(1.125 1)">AT1G25900.1</text>
<text y="1.5" text-anchor="end" transform="rotate(286.23 267.2 283.0) translate(68.60 283.0) scale(1.125 1)">AT4G44800.1</text>
<text y="1.5" text-anchor="end" transform="rotate(287.40 267.2 283.0) translate(68.60 283.0) scale(1.125 1)">EVM0001121</text>
<text y="1.5" text-anchor="end" transform="rotate(288.57 267.2 283.0) translate(68.60 283.0) scale(1.125 1)">AT5G51200.1</text>
<text y="1.5" text-anchor="end" transform="rotate(289.74 267.2 283.0) translate(68.60 283.0) scale(1.125 1)">AT4G15900.1</text>
<text y="1.5" text-anchor="end" transform="rotate(290.91 267.2 283.0) translate(68.60 283.0) scale(1.125 1)">EVM0017580</text>
<text y="1.5" text-anchor="end" transform="rotate(292.08 267.2 283.0) translate(68.60 283.0) scale(1.125 1)">EVM0013199</text>
<text y="1.5" text-anchor="end" transform="rotate(293.25 267.2 283.0) translate(68.60 283.0) scale(1.125 1)">AT4G71600.1</text>
<text y="1.5" text-anchor="end" transform="rotate(294.42 267.2 283.0) translate(68.60 283.0) scale(1.125 1)">AT4G57400.1</text>
<text y="1.5" text-anchor="end" transform="rotate(295.59 267.2 283.0) translate(68.60 283.0) scale(1.125 1)">EVM0015748</text>
<text y="1.5" text-anchor="end" transform="rotate(296.76 267.2 283.0) translate(68.60 283.0) scale(1.125 1)">AT2G65700.1</text>
<text y="1.5" text-anchor="end" transform="rotate(297.93 267.2 283.0) translate(68.60 283.0) scale(1.125 1)">AT2G03800.1</text>
<text y="1.5" text-anchor="end" transform="rotate(299.10 267.2 283.0) translate(68.60 283.0) scale(1.125 1)">EVM0022194</text>
<text y="1.5" text-anchor="end" transform="rotate(300.27 267.2 283.0) translate(68.60 283.0) scale(1.125 1)">EVM0010488</text>
<text y="1.5" text-anchor="end" transform="rotate(301.44 267.2 283.0) translate(68.60 283.0) scale(1.125 1)">AT1G79100.1</text>
<text y="1.5" text-anchor="end" transform="rotate(302.61 267.2 283.0) translate(68.60 283.0) scale(1.125 1)">AT3G48100.1</text>
<text y="1.5" text-anchor="end" transform="rotate(303.78 267.2 283.0) translate(68.60 283.0) scale(1.125 1)">AT1G44500.1</text>
<text y="1.5" text-anchor="end" transform="rotate(304.95 267.2 283.0) translate(68.60 283.0) scale(1.125 1)">AT2G31100.1</text>
<text y="1.5" text-anchor="end" transform="rotate(306.12 267.2 283.0) translate(68.60 283.0) scale(1.125 1)">EVM0004688</text>
<text y="1.5" text-anchor="end" transform="rotate(307.29 267.2 283.0) translate(68.60 283.0) scale(1.125 1)">EVM0000381</text>
<text y="1.5" text-anchor="end" transform="rotate(308.46 267.2 283.0) translate(68.60 283.0) scale(1.125 1)">AT3G27400.1</text>
<text y="1.5" text-anchor="end" transform="rotate(309.63 267.2 283.0) translate(68.60 283.0) scale(1.125 1)">EVM0016545</text>
<text y="1.5" text-anchor="end" transform="rotate(310.80 267.2 283.0) translate(68.60 283.0) scale(1.125 1)">EVM0019803</text>
<text y="1.5" text-anchor="end" transform="rotate(311.97 267.2 283.0) translate(68.60 283.0) scale(1.125 1)">AT5G25800.1</text>
<text y="1.5" text-anchor="end" transform="rotate(313.14 267.2 283.0) translate(68.60 283.0) scale(1.125 1)">EVM0001353</text>
<text y="1.5" text-anchor="end" transform="rotate(314.31 267.2 283.0) translate(68.60 283.0) scale(1.125 1)">EVM0003687</text>
<text y="1.5" text-anchor="end" transform="rotate(315.48 267.2 283.0) translate(68.60 283.0) scale(1.125 1)">EVM0028143</text>
<text y="1.5" text-anchor="end" transform="rotate(316.65 267.2 283.0) translate(68.60 283.0) scale(1.125 1)">EVM0006529</text>
<text y="1.5" text-anchor="end" transform="rotate(317.82 267.2 283.0) translate(68.60 283.0) scale(1.125 1)">EVM0008356</text>
<text y="1.5" text-anchor="end" transform="rotate(318.99 267.2 283.0) translate(68.60 283.0) scale(1.125 1)">AT4G52400.1</text>
<text y="1.5" text-anchor="end" transform="rotate(320.16 267.2 283.0) translate(68.60 283.0) scale(1.125 1)">AT4G45700.1</text>
<text y="1.5" text-anchor="end" transform="rotate(321.33 267.2 283.0) translate(68.60 283.0) scale(1.125 1)">EVM0025487</text>
<text y="1.5" text-anchor="end" transform="rotate(322.50 267.2 283.0) translate(68.60 283.0) scale(1.125 1)">AT5G57700.1</text>
<text y="1.5" text-anchor="end" transform="rotate(323.67 267.2 283.0) translate(68.60 283.0) scale(1.125 1)">AT1G60500.1</text>
<text y="1.5" text-anchor="end" transform="rotate(324.84 267.2 283.0) translate(68.60 283.0) scale(1.125 1)">AT2G63200.1</text>
<text y="1.5" text-anchor="end" transform="rotate(326.01 267.2 283.0) translate(68.60 283.0) scale(1.125 1)">EVM0011948</text>
<text y="1.5" text-anchor="end" transform="rotate(327.18 267.2 283.0) translate(68.60 283.0) scale(1.125 1)">AT1G78900.1</text>
<text y="1.5" text-anchor="end" transform="rotate(328.35 267.2 283.0) translate(68.60 283.0) scale(1.125 1)">AT1G43400.1</text>
<text y="1.5" text-anchor="end" transform="rotate(329.52 267.2 283.0) translate(68.60 283.0) scale(1.125 1)">AT3G28600.1</text>
<text y="1.5" text-anchor="end" transform="rotate(330.69 267.2 283.0) translate(68.60 283.0) scale(1.125 1)">EVM0006780</text>
<text y="1.5" text-anchor="end" transform="rotate(331.86 267.2 283.0) translate(68.60 283.0) scale(1.125 1)">EVM0028662</text>
<text y="1.5" text-anchor="end" transform="rotate(333.03 267.2 283.0) translate(68.60 283.0) scale(1.125 1)">EVM0024088</text>
<text y="1.5" text-anchor="end" transform="rotate(334.20 267.2 283.0) translate(68.60 283.0) scale(1.125 1)">EVM0023306</text>
<text y="1.5" text-anchor="end" transform="rotate(335.37 267.2 283.0) translate(68.60 283.0) scale(1.125 1)">EVM0013721</text>
<text y="1.5" text-anchor="end" transform="rotate(336.54 267.2 283.0) translate(68.60 283.0) scale(1.125 1)">AT2G53800.1</text>
<text y="1.5" text-anchor="end" transform="rotate(337.71 267.2 283.0) translate(68.60 283.0) scale(1.125 1)">AT5G05500.1</text>
<text y="1.5" text-anchor="end" transform="rotate(338.88 267.2 283.0) translate(68.60 283.0) scale(1.125 1)">AT1G04300.1</text>
<text y="1.5" text-anchor="end" transform="rotate(340.05 267.2 283.0) translate(68.60 283.0) scale(1.125 1)">EVM0002010</text>
<text y="1.5" text-anchor="end" transform="rotate(341.22 267.2 283.0) translate(68.60 283.0) scale(1.125 1)">EVM0001329</text>
<text y="1.5" text-anchor="end" transform="rotate(342.39 267.2 283.0) translate(68.60 283.0) scale(1.125 1)">AT2G36800.1</text>
<text y="1.5" text-anchor="end" transform="rotate(343.56 267.2 283.0) translate(68.60 283.0) scale(1.125 1)">AT4G26500.1</text>
<text y="1.5" text-anchor="end" transform="rotate(344.73 267.2 283.0) translate(68.60 283.0) scale(1.125 1)">AT3G53800.1</text>
<text y="1.5" text-anchor="end" transform="rotate(345.90 267.2 283.0) translate(68.60 283.0) scale(1.125 1)">AT4G37700.1</text>
<text y="1.5" text-anchor="end" transform="rotate(347.07 267.2 283.0) translate(68.60 283.0) scale(1.125 1)">EVM0014132</text>
<text y="1.5" text-anchor="end" transform="rotate(348.24 267.2 283.0) translate(68.60 283.0) scale(1.125 1)">AT4G61900.1</text>
<text y="1.5" text-anchor="end" transform="rotate(349.41 267.2 283.0) translate(68.60 283.0) scale(1.125 1)">AT3G37100.1</text>
<text y="1.5" text-anchor="end" transform="rotate(350.58 267.2 283.0) translate(68.60 283.0) scale(1.125 1)">AT3G39400.1</text>
<text y="1.5" text-anchor="end" transform="rotate(351.75 267.2 283.0) translate(68.60 283.0) scale(1.125 1)">AT2G68300.1</text>
<text y="1.5" text-anchor="end" transform="rotate(352.92 267.2 283.0) translate(68.60 283.0) scale(1.125 1)">AT1G01400.1</text>
<text y="1.5" text-anchor="end" transform="rotate(354.09 267.2 283.0) translate(68.60 283.0) scale(1.125 1)">AT3G71100.1</text>
<text y="1.5" text-anchor="end" transform="rotate(355.26 267.2 283.0) translate(68.60 283.0) scale(1.125 1)">AT1G36700.1</text>
<text y="1.5" text-anchor="end" transform="rotate(356.43 267.2 283.0) translate(68.60 283.0) scale(1.125 1)">EVM0019775</text>
<text y="1.5" text-anchor="end" transform="rotate(357.60 267.2 283.0) translate(68.60 283.0) scale(1.125 1)">EVM0003074</text>
<text y="1.5" text-anchor="end" transform="rotate(358.77 267.2 283.0) translate(68.60 283.0) scale(1.125 1)">AT3G32800.1</text>
<text y="1.5" text-anchor="end" transform="rotate(359.94 267.2 283.0) translate(68.60 283.0) scale(1.125 1)">EVM0011125</text>
<text y="1.5" text-anchor="end" transform="rotate(361.11 267.2 283.0) translate(68.60 283.0) scale(1.125 1)">AT4G05300.1</text>
<text y="1.5" text-anchor="end" transform="rotate(362.28 267.2 283.0) translate(68.60 283.0) scale(1.125 1)">AT2G53900.1</text>
<text y="1.5" text-anchor="end" transform="rotate(363.45 267.2 283.0) translate(68.60 283.0) scale(1.125 1)">EVM0009161</text>
<text y="1.5" text-anchor="end" transform="rotate(364.62 267.2 283.0) translate(68.60 283.0) scale(1.125 1)">AT1G03800.1</text>
<text y="1.5" text-anchor="end" transform="rotate(365.79 267.2 283.0) translate(68.60 283.0) scale(1.125 1)">EVM0029693</text>
<text y="1.5" text-anchor="end" transform="rotate(366.96 267.2 283.0) translate(68.60 283.0) scale(1.125 1)">AT5G78900.1</text>
<text y="1.5" text-anchor="end" transform="rotate(368.13 267.2 283.0) translate(68.60 283.0) scale(1.125 1)">AT2G38300.1</text>
<text y="1.5" text-anchor="end" transform="rotate(369.30 267.2 283.0) translate(68.60 283.0) scale(1.125 1)">EVM0027269</text>
<text y="1.5" text-anchor="end" transform="rotate(370.47 267.2 283.0) translate(68.60 283.0) scale(1.125 1)">EVM0013374</text>
<text y="1.5" text-anchor="end" transform="rotate(371.64 267.2 283.0) translate(68.60 283.0) scale(1.125 1)">EVM0014552</text>
<text y="1.5" text-anchor="end" transform="rotate(372.81 267.2 283.0) translate(68.60 283.0) scale(1.125 1)">AT3G58500.1</text>
<text y="1.5" text-anchor="end" transform="rotate(373.98 267.2 283.0) translate(68.60 283.0) scale(1.125 1)">AT3G18900.1</text>
<text y="1.5" text-anchor="end" transform="rotate(375.15 267.2 283.0) translate(68.60 283.0) scale(1.125 1)">AT2G59500.1</text>
<text y="1.5" text-anchor="end" transform="rotate(376.32 267.2 283.0) translate(68.60 283.0) scale(1.125 1)">AT5G71200.1</text>
<text y="1.5" text-anchor="end" transform="rotate(377.49 267.2 283.0) translate(68.60 283.0) scale(1.125 1)">AT3G14700.1</text>
<text y="1.5" text-anchor="end" transform="rotate(378.66 267.2 283.0) translate(68.60 283.0) scale(1.125 1)">AT5G63800.1</text>
</g>
<g font-family="Liberation Sans, Arial, sans-serif" fill="#111" stroke="#111" stroke-width="0.35">
<text x="0" y="5.76" font-size="16" text-anchor="middle" transform="translate(68.81,94.74) rotate(-46.50) scale(1.0,1)">ERF</text>
<text x="0" y="5.40" font-size="15" text-anchor="middle" transform="translate(384.94,38.36) rotate(25.70) scale(1.0,1)">AP2</text>
<text x="0" y="5.76" font-size="16" text-anchor="middle" transform="translate(527.75,366.15) rotate(107.70) scale(1.0,1)">ERF</text>
<text x="0" y="5.76" font-size="16" text-anchor="middle" transform="translate(65.97,466.75) rotate(227.60) scale(1.0,1)">DREB</text>
<text x="0" y="7.56" font-size="21" text-anchor="middle" transform="translate(252.49,11.40) rotate(-3.10) scale(0.62,1)">RAV</text>
<text x="0" y="5.58" font-size="15.5" text-anchor="middle" transform="translate(218.13,15.67) rotate(-10.40) scale(0.53,1)">Soloist</text>
</g>
</svg></body></html>
